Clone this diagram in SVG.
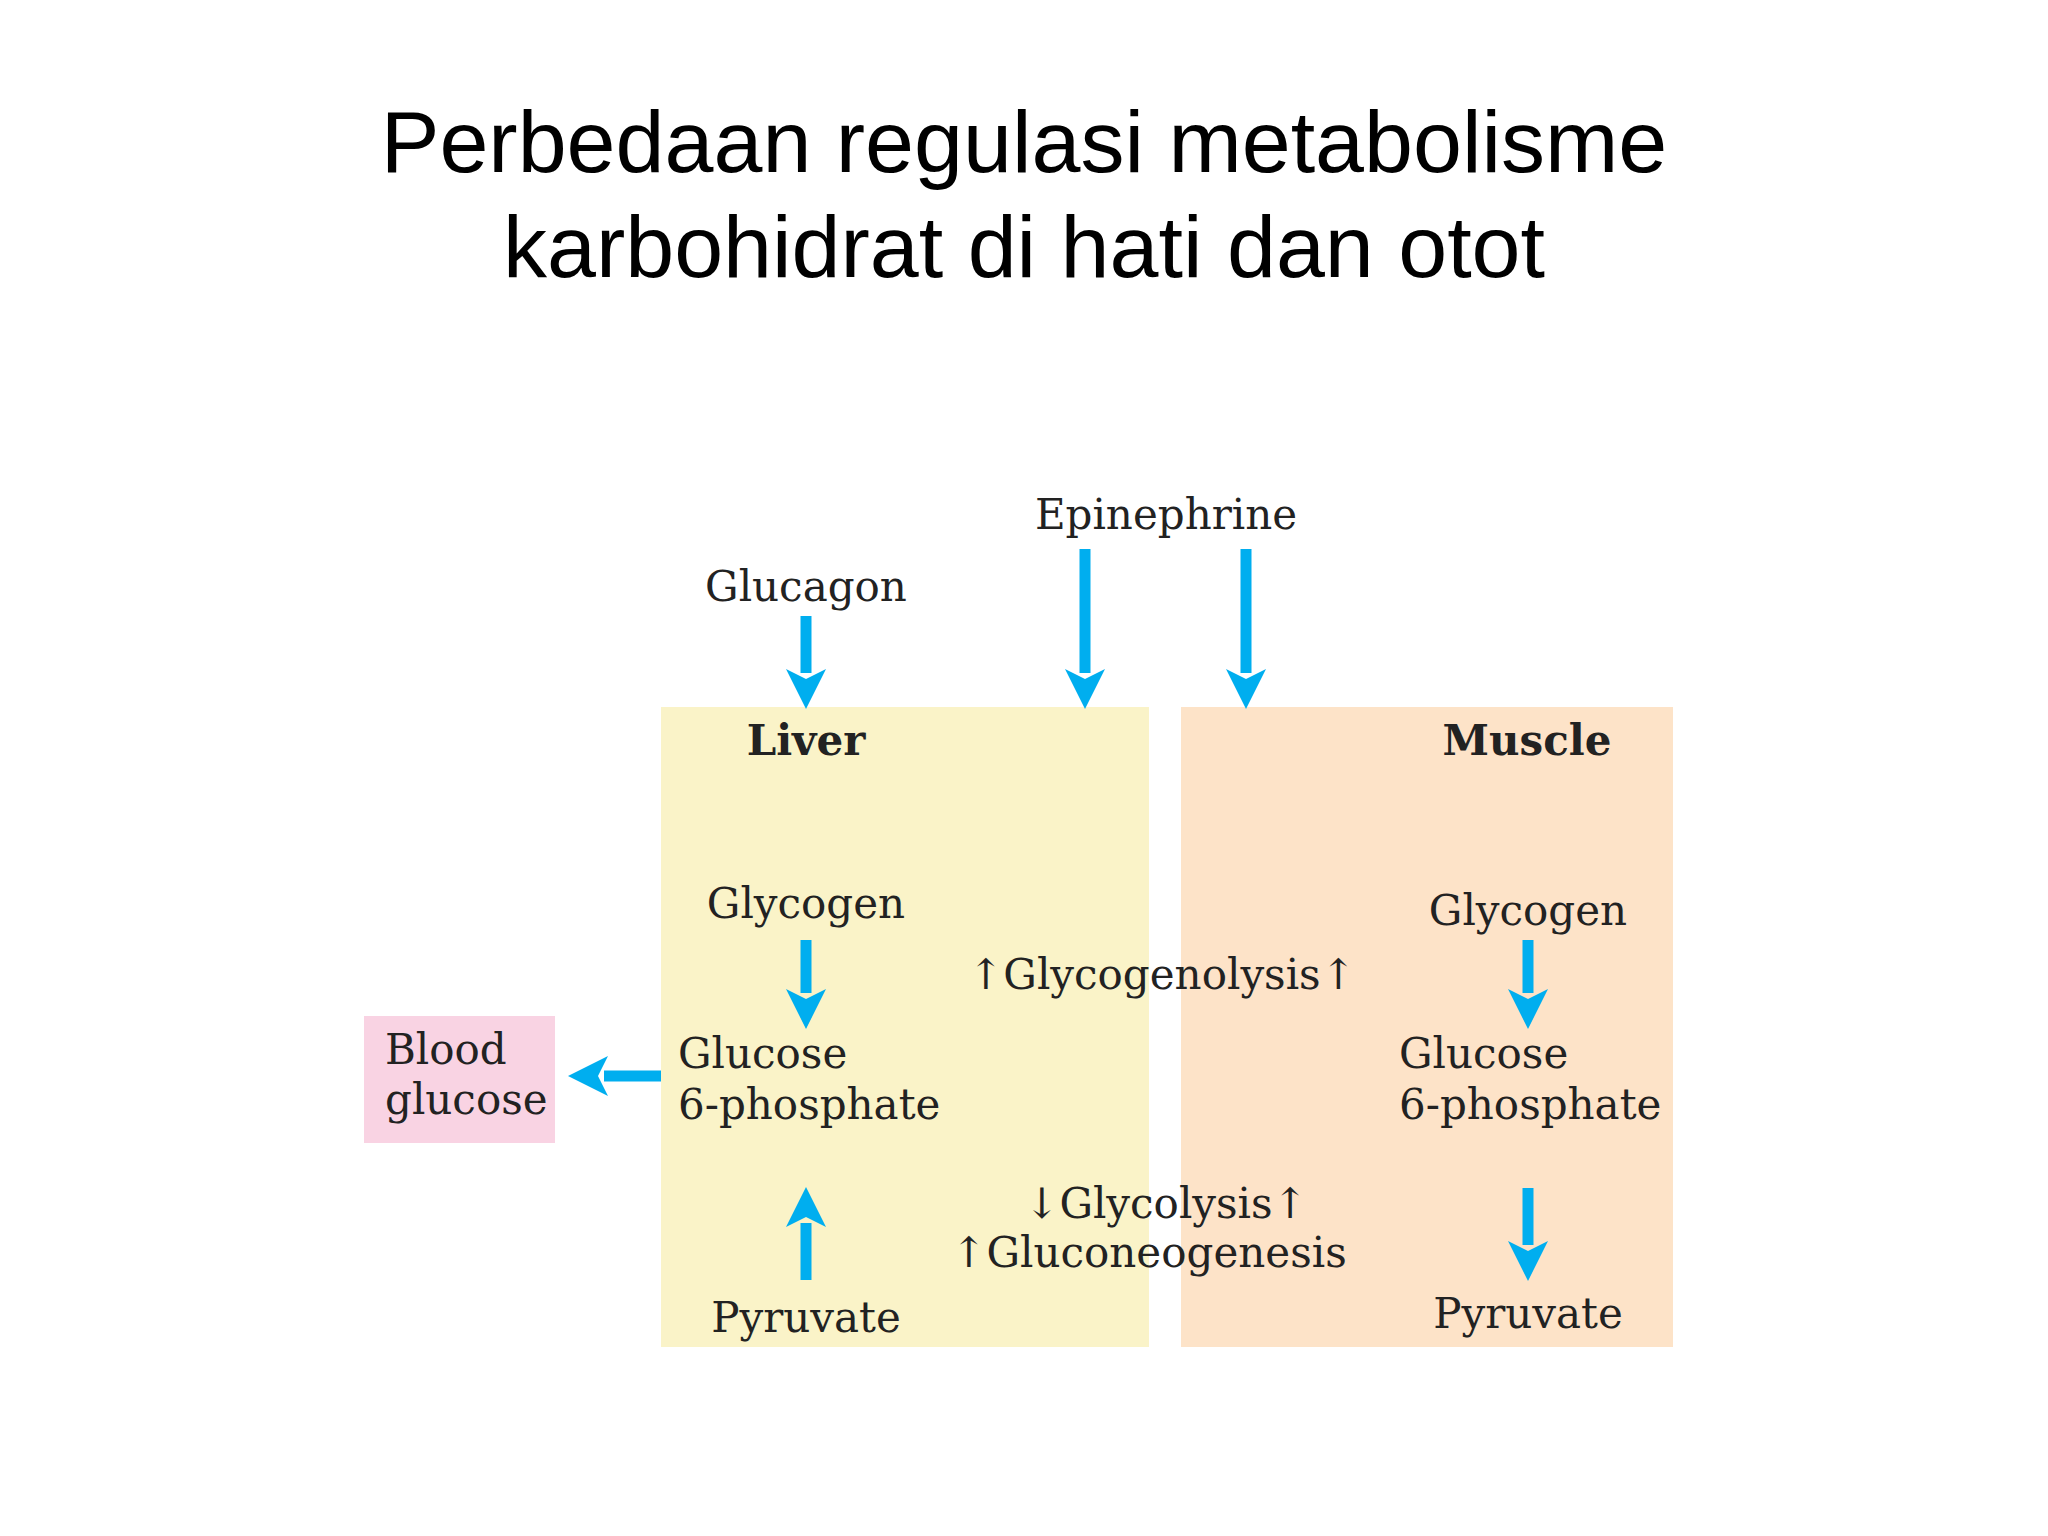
<svg xmlns="http://www.w3.org/2000/svg" width="2048" height="1536" viewBox="0 0 2048 1536">
<defs>
<marker id="ah" markerUnits="userSpaceOnUse" markerWidth="44" markerHeight="40" refX="4" refY="20" orient="auto" viewBox="0 0 44 40">
<path d="M0,0 L40,20 L0,40 L10,20 Z" fill="#00aeef"/>
</marker>
<style>
.t{font-family:"Liberation Sans",Arial,sans-serif;font-size:88px;fill:#000;text-anchor:middle}
.s{font-family:"DejaVu Serif","Liberation Serif",serif;font-size:42px;fill:#222}
.c{text-anchor:middle}
.b{font-weight:bold}
.a{stroke:#00aeef;stroke-width:11;fill:none;marker-end:url(#ah)}
</style>
</defs>
<rect width="2048" height="1536" fill="#fff"/>
<text class="t" x="1024" y="172">Perbedaan regulasi metabolisme</text>
<text class="t" x="1024" y="277">karbohidrat di hati dan otot</text>
<g id="liver"><rect x="661" y="707" width="488" height="640" fill="#faf3c8"/><text class="s c b" x="806" y="755">Liver</text></g>
<g id="muscle"><rect x="1181" y="707" width="492" height="640" fill="#fde3c8"/><text class="s c b" x="1527" y="755">Muscle</text></g>
<g id="blood"><rect x="364" y="1016" width="191" height="127" fill="#f9d3e3"/><text class="s" x="385" y="1064">Blood</text><text class="s" x="385" y="1114">glucose</text></g>
<g id="labels">
<text class="s c" x="1166" y="529">Epinephrine</text>
<text class="s c" x="806" y="601">Glucagon</text>
<text class="s c" x="806" y="918">Glycogen</text>
<text class="s c" x="1528" y="925">Glycogen</text>
<text class="s c" x="1162" y="989">↑Glycogenolysis↑</text>
<text class="s" x="678" y="1068">Glucose</text><text class="s" x="678" y="1119">6-phosphate</text>
<text class="s" x="1399" y="1068">Glucose</text><text class="s" x="1399" y="1119">6-phosphate</text>
<text class="s c" x="1166" y="1218">↓Glycolysis↑</text>
<text class="s c" x="1149" y="1267">↑Gluconeogenesis</text>
<text class="s c" x="806" y="1332">Pyruvate</text>
<text class="s c" x="1528" y="1328">Pyruvate</text>
</g>
<g id="connectors">
<path class="a" d="M806,616 V673"/>
<path class="a" d="M1085,549 V673"/>
<path class="a" d="M1246,549 V673"/>
<path class="a" d="M806,940 V993"/>
<path class="a" d="M1528,940 V993"/>
<path class="a" d="M806,1280 V1223"/>
<path class="a" d="M1528,1188 V1245"/>
<path class="a" d="M661,1076 H604"/>
</g>
</svg>
